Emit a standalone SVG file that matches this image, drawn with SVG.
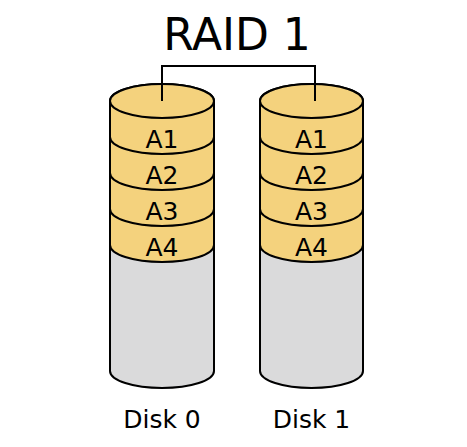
<svg xmlns="http://www.w3.org/2000/svg" width="467" height="447" viewBox="0 0 467 447">
<style>
.seg{fill:#f4d27d;stroke:#000;stroke-width:2}
.gray{fill:#dadadb;stroke:#000;stroke-width:2}
.lbl{font-family:"DejaVu Sans",sans-serif;font-size:25px;text-anchor:middle;fill:#000}
.title{font-family:"DejaVu Sans",sans-serif;font-size:44px;text-anchor:middle;fill:#000}
.conn{fill:none;stroke:#000;stroke-width:2}
</style>
<rect width="467" height="447" fill="#fff"/>
<text class="title" x="237" y="50">RAID 1</text>
<g id="disk0">
<path class="gray" d="M110,245 L110,371 A52,17 0 0 0 214,371 L214,245 A52,17 0 0 0 110,245 Z"/>
<path class="seg" d="M110,209 L110,245 A52,17 0 0 0 214,245 L214,209 A52,17 0 0 0 110,209 Z"/>
<path class="seg" d="M110,173 L110,209 A52,17 0 0 0 214,209 L214,173 A52,17 0 0 0 110,173 Z"/>
<path class="seg" d="M110,137 L110,173 A52,17 0 0 0 214,173 L214,137 A52,17 0 0 0 110,137 Z"/>
<path class="seg" d="M110,101 L110,137 A52,17 0 0 0 214,137 L214,101 A52,17 0 0 0 110,101 Z"/>
<ellipse class="seg" cx="162" cy="101" rx="52" ry="17"/>
<text class="lbl" x="162" y="148">A1</text>
<text class="lbl" x="162" y="184">A2</text>
<text class="lbl" x="162" y="220">A3</text>
<text class="lbl" x="162" y="256">A4</text>
<text class="lbl" x="162" y="428">Disk 0</text>
</g>
<g id="disk1">
<path class="gray" d="M260,245 L260,371 A51.5,17 0 0 0 363,371 L363,245 A51.5,17 0 0 0 260,245 Z"/>
<path class="seg" d="M260,209 L260,245 A51.5,17 0 0 0 363,245 L363,209 A51.5,17 0 0 0 260,209 Z"/>
<path class="seg" d="M260,173 L260,209 A51.5,17 0 0 0 363,209 L363,173 A51.5,17 0 0 0 260,173 Z"/>
<path class="seg" d="M260,137 L260,173 A51.5,17 0 0 0 363,173 L363,137 A51.5,17 0 0 0 260,137 Z"/>
<path class="seg" d="M260,101 L260,137 A51.5,17 0 0 0 363,137 L363,101 A51.5,17 0 0 0 260,101 Z"/>
<ellipse class="seg" cx="311.5" cy="101" rx="51.5" ry="17"/>
<text class="lbl" x="311.5" y="148">A1</text>
<text class="lbl" x="311.5" y="184">A2</text>
<text class="lbl" x="311.5" y="220">A3</text>
<text class="lbl" x="311.5" y="256">A4</text>
<text class="lbl" x="311.5" y="428">Disk 1</text>
</g>
<g id="connectors">
<path class="conn" d="M162,101 L162,66 L315,66 L315,101"/>
</g>
</svg>
